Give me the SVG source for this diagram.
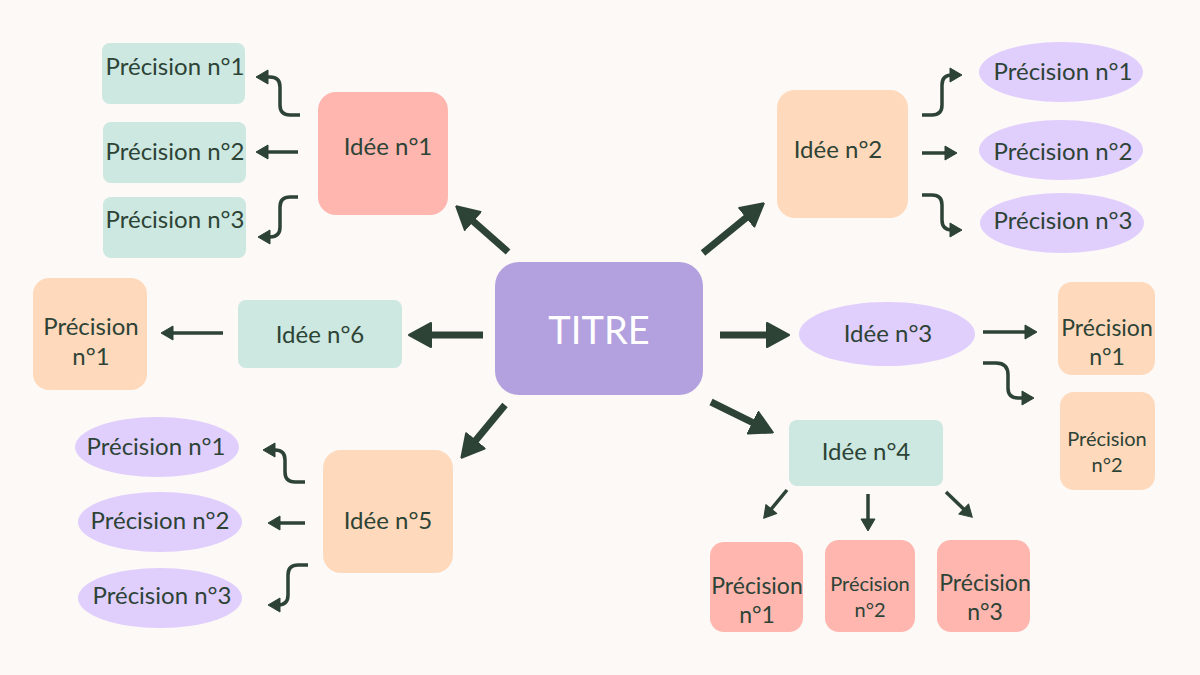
<svg xmlns="http://www.w3.org/2000/svg" width="1200" height="675" viewBox="0 0 1200 675">
<defs>
<style>
.bg{fill:#FDF9F6}
.teal{fill:#CCE8E0}
.pink{fill:#FEB6AF}
.peach{fill:#FFD9BB}
.lav{fill:#E0CEFD}
.title{fill:#B3A0DE}
text{font-family:Lato,"Open Sans","Liberation Sans",sans-serif;fill:#2D4336;text-anchor:middle}
.t24{font-size:24px}
.t23{font-size:23px}
.t20{font-size:20px}
.tt{font-size:38px;fill:#FFFFFF}
.big{fill:none;stroke:#2D4336;stroke-width:7;marker-end:url(#hb)}
.sm{fill:none;stroke:#2D4336;stroke-width:3.5;marker-end:url(#hs)}
</style>
<marker id="hb" markerUnits="userSpaceOnUse" markerWidth="24" markerHeight="28" viewBox="0 0 24 28" refX="12" refY="14" orient="auto">
<path d="M1,2 L23,14 L1,26 Z" fill="#2D4336" stroke="#2D4336" stroke-width="2" stroke-linejoin="round"/>
</marker>
<marker id="hs" markerUnits="userSpaceOnUse" markerWidth="14" markerHeight="16" viewBox="0 0 14 16" refX="7" refY="8" orient="auto">
<path d="M1,1 L13,8 L1,15 Z" fill="#2D4336" stroke="#2D4336" stroke-width="1" stroke-linejoin="round"/>
</marker>
</defs>
<rect class="bg" x="0" y="0" width="1200" height="675"/>

<g id="connectors">
<path class="big" d="M508,252 L464.5,213.6"/>
<path class="big" d="M703,253 L755.3,210.3"/>
<path class="big" d="M720,335 L778,335"/>
<path class="big" d="M711,402 L763,427.6"/>
<path class="big" d="M505,405 L468.4,449.3"/>
<path class="big" d="M483,335 L420,335"/>

<path class="sm" d="M300,115 H290 Q280,115 280,105 V87 Q280,77 270,77 H262"/>
<path class="sm" d="M298,152 H262"/>
<path class="sm" d="M298,197 H290 Q280,197 280,207 V227 Q280,237 270,237 H264"/>

<path class="sm" d="M922,115 H932 Q942,115 942,105 V85 Q942,75 952,75 H956"/>
<path class="sm" d="M922,153 H951"/>
<path class="sm" d="M922,195 H932 Q942,195 942,205 V220 Q942,230 952,230 H956"/>

<path class="sm" d="M305,482 H295 Q285,482 285,472 V460 Q285,450 275,450 H269"/>
<path class="sm" d="M305,523 H274"/>
<path class="sm" d="M308,565 H298 Q288,565 288,575 V595 Q288,605 278,605 H274"/>

<path class="sm" d="M223,333 H167"/>

<path class="sm" d="M983,332 H1031"/>
<path class="sm" d="M983,363 H996 Q1008,363 1008,375 V388 Q1008,398 1018,398 H1028"/>

<path class="sm" d="M787,490 L767.5,513.6"/>
<path class="sm" d="M868,494 L868,525"/>
<path class="sm" d="M946,492 L968,513.2"/>
</g>

<g id="titre">
<rect class="title" x="495" y="262" width="208" height="133" rx="24"/>
<text class="tt" x="599" y="344">TITRE</text>
</g>

<g id="idee1">
<rect class="pink" x="318" y="92" width="130" height="123" rx="18"/>
<text class="t24" x="388" y="155">Idée n°1</text>
</g>
<g id="idee1-p1">
<rect class="teal" x="102" y="43" width="143" height="61" rx="8"/>
<text class="t24" x="175" y="75">Précision n°1</text>
</g>
<g id="idee1-p2">
<rect class="teal" x="103" y="122" width="143" height="61" rx="8"/>
<text class="t24" x="175" y="160">Précision n°2</text>
</g>
<g id="idee1-p3">
<rect class="teal" x="103" y="197" width="143" height="61" rx="8"/>
<text class="t24" x="175" y="228">Précision n°3</text>
</g>

<g id="idee2">
<rect class="peach" x="777" y="90" width="131" height="128" rx="18"/>
<text class="t24" x="838" y="158">Idée n°2</text>
</g>
<g id="idee2-p1">
<ellipse class="lav" cx="1061" cy="72" rx="82" ry="30"/>
<text class="t24" x="1063" y="80">Précision n°1</text>
</g>
<g id="idee2-p2">
<ellipse class="lav" cx="1061" cy="150" rx="82" ry="30"/>
<text class="t24" x="1063" y="160">Précision n°2</text>
</g>
<g id="idee2-p3">
<ellipse class="lav" cx="1062" cy="223" rx="82" ry="30"/>
<text class="t24" x="1063" y="229">Précision n°3</text>
</g>

<g id="idee3">
<ellipse class="lav" cx="887" cy="334" rx="88" ry="32"/>
<text class="t24" x="888" y="342">Idée n°3</text>
</g>
<g id="idee3-p1">
<rect class="peach" x="1058" y="282" width="97" height="93" rx="14"/>
<text class="t23" x="1107" y="336">Précision</text>
<text class="t23" x="1107" y="365">n°1</text>
</g>
<g id="idee3-p2">
<rect class="peach" x="1060" y="392" width="95" height="98" rx="14"/>
<text class="t20" x="1107" y="446">Précision</text>
<text class="t20" x="1107" y="472">n°2</text>
</g>

<g id="idee4">
<rect class="teal" x="789" y="420" width="154" height="66" rx="8"/>
<text class="t24" x="866" y="460">Idée n°4</text>
</g>
<g id="idee4-p1">
<rect class="pink" x="710" y="542" width="93" height="90" rx="14"/>
<text class="t23" x="757" y="594">Précision</text>
<text class="t23" x="757" y="623">n°1</text>
</g>
<g id="idee4-p2">
<rect class="pink" x="825" y="540" width="90" height="92" rx="14"/>
<text class="t20" x="870" y="591">Précision</text>
<text class="t20" x="870" y="617">n°2</text>
</g>
<g id="idee4-p3">
<rect class="pink" x="937" y="540" width="93" height="92" rx="14"/>
<text class="t23" x="985" y="591">Précision</text>
<text class="t23" x="985" y="620">n°3</text>
</g>

<g id="idee5">
<rect class="peach" x="323" y="450" width="130" height="123" rx="18"/>
<text class="t24" x="388" y="529">Idée n°5</text>
</g>
<g id="idee5-p1">
<ellipse class="lav" cx="157" cy="447" rx="82" ry="30"/>
<text class="t24" x="156" y="455">Précision n°1</text>
</g>
<g id="idee5-p2">
<ellipse class="lav" cx="160" cy="522" rx="82" ry="30"/>
<text class="t24" x="160" y="529">Précision n°2</text>
</g>
<g id="idee5-p3">
<ellipse class="lav" cx="160" cy="598" rx="82" ry="30"/>
<text class="t24" x="162" y="604">Précision n°3</text>
</g>

<g id="idee6">
<rect class="teal" x="238" y="300" width="164" height="68" rx="8"/>
<text class="t24" x="320" y="343">Idée n°6</text>
</g>
<g id="idee6-p1">
<rect class="peach" x="33" y="278" width="114" height="112" rx="16"/>
<text class="t24" x="91" y="335">Précision</text>
<text class="t24" x="91" y="365">n°1</text>
</g>
</svg>
